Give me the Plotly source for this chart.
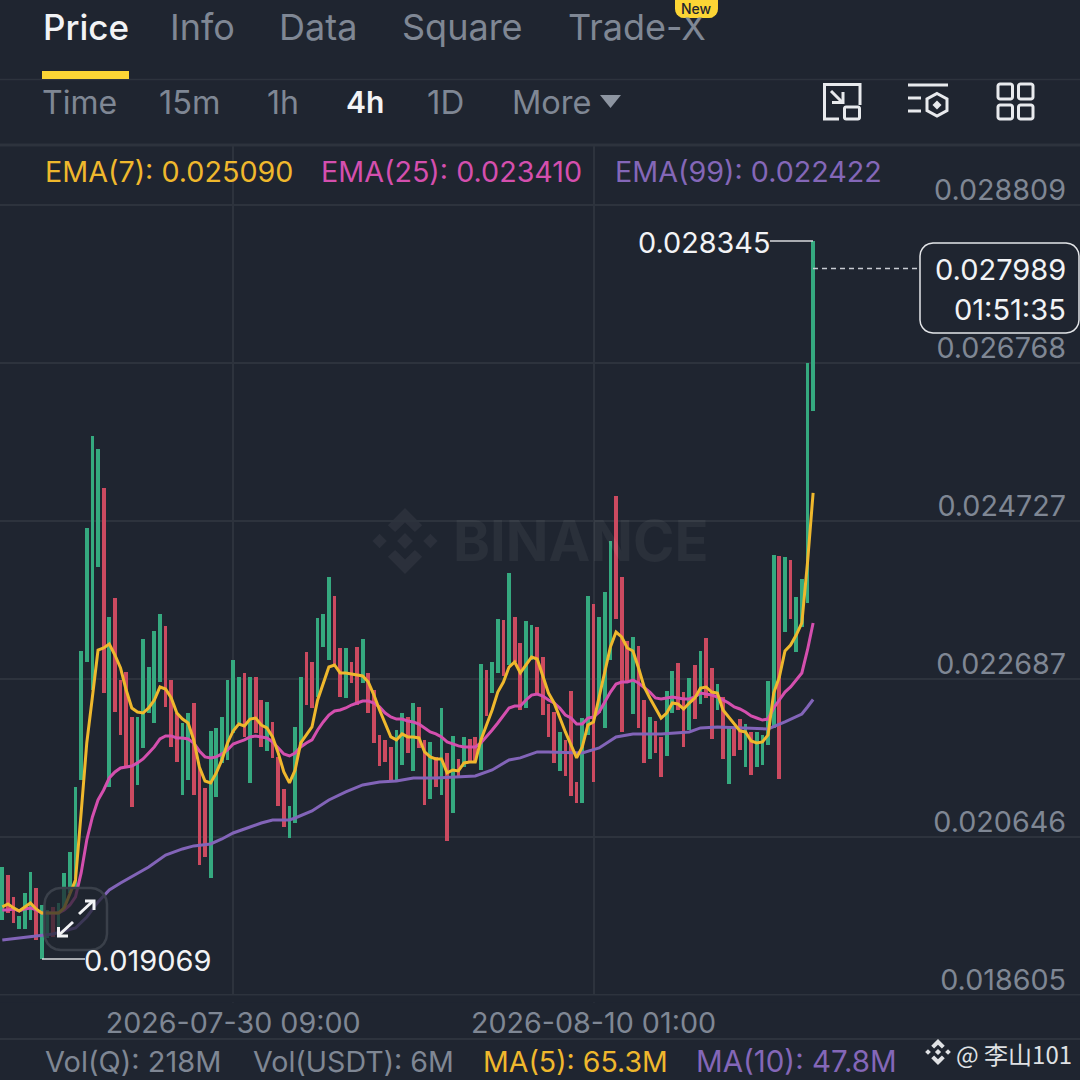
import numpy as np
import pandas as pd
import plotly.graph_objects as go

# prices below are stored x 1e6, one entry per 4h candle
bar_high = [
    20259, 20156, 19872, 19626, 19923, 20195, 19988, 19768, 19704, 19743,
    19794, 20182, 20453, 21293, 23049, 24638, 25827, 25659, 25155, 23488,
    23734, 22674, 22778, 22196, 22196, 23204, 22842, 23307, 23527, 23372,
    22674, 22248, 22119, 22248, 22377, 21538, 21280, 22016, 22055, 22196,
    22674, 22933, 22713, 22765, 22713, 22713, 22416, 22390, 22132, 21681,
    21267, 21047, 22068, 22713, 23036, 22907, 23475, 23527, 24005, 23760,
    23088, 23088, 22907, 23101, 23204, 22765, 22545, 21965, 21900, 21810,
    22029, 22248, 22196, 22377, 22326, 21900, 21874, 21681, 22313, 21732,
    21952, 21655, 21939, 21913, 21939, 22881, 22803, 22907, 23462, 23449,
    24057, 23488, 23152, 23436, 23385, 23359, 22971, 22364, 22261, 22003,
    21900, 22532, 21358, 22183, 23760, 23656, 23488, 23811, 24470, 25052,
    24005, 23178, 23230, 23113, 22416, 22196, 22145, 21939, 22532, 22791,
    22894, 22519, 22700, 22868, 23049, 23217, 22829, 22622, 22455, 22068,
    22055, 22170, 22106, 22003, 22003, 21965, 22661, 24289, 24276, 24263,
    24225, 23747, 23979, 26769, 28345,
]
bar_low = [
    19575, 19665, 19536, 19458, 19458, 19575, 19316, 19069, 19342, 19355,
    19484, 19704, 19923, 20001, 21383, 22907, 22545, 24134, 22506, 21293,
    22261, 21965, 21551, 21034, 21319, 21797, 22248, 22119, 22648, 22326,
    21810, 21616, 21190, 21383, 21190, 20285, 20389, 20117, 21164, 21603,
    21642, 21990, 22119, 21939, 21345, 21990, 21810, 21758, 21668, 21047,
    20775, 20633, 20827, 21810, 22351, 22313, 22455, 23101, 22933, 22842,
    22455, 22442, 22635, 22351, 22635, 22248, 21861, 21564, 21616, 21383,
    21383, 21577, 21732, 21499, 21797, 21060, 21138, 21293, 21190, 20595,
    20956, 21422, 21551, 21616, 21616, 21512, 22209, 22506, 22765, 22726,
    22868, 22907, 22287, 22313, 22933, 22506, 22222, 21939, 21603, 21499,
    21435, 21177, 21086, 21086, 21965, 21358, 22248, 22055, 22933, 23462,
    22003, 22635, 22235, 22055, 21603, 21655, 21732, 21422, 21693, 22248,
    22287, 21810, 22029, 22170, 22364, 22442, 21913, 22287, 21655, 21332,
    21693, 21771, 21551, 21448, 21551, 21577, 21836, 22055, 21396, 23294,
    23462, 23036, 23359, 23669, 26150,
]
# G = up candle, R = down candle
bar_side = (
    "GRRGGGRGGRGGGGGGGGRG" "RRRRGGGGGRRRGGRRRGGG" "GGGRGRRGRRRGGGRRGGGR"
    "RGRRGRRRRRGGRGRRGRGR" "GRGRRGRGGRGRRGGRRRRG" "RRRGGRGGGRRRGRRGRRGG"
    "RRGRGRRGRGRRGRGGGGRG" "RGGGG"
)
ema7 = [
    19743, 19781, 19730, 19691, 19743, 19794, 19717, 19665, 19665, 19665,
    19665, 19730, 19923, 20091, 20957, 21861, 22455, 23062, 23088, 23139,
    22997, 22829, 22545, 22313, 22261, 22248, 22313, 22416, 22584, 22558,
    22442, 22248, 22170, 22119, 21900, 21551, 21370, 21345, 21474, 21642,
    21861, 22016, 22106, 22080, 22170, 22183, 22093, 22055, 21939, 21732,
    21486, 21345, 21512, 21861, 21965, 22068, 22416, 22635, 22842, 22868,
    22765, 22765, 22752, 22739, 22726, 22648, 22480, 22287, 22119, 21939,
    21900, 21978, 21939, 21939, 21926, 21745, 21681, 21655, 21655, 21474,
    21512, 21499, 21603, 21616, 21616, 21900, 22093, 22287, 22519, 22648,
    22842, 22907, 22765, 22868, 22971, 22945, 22713, 22506, 22377, 22183,
    22003, 21836, 21668, 21810, 22093, 22132, 22455, 22739, 23100, 23294,
    23230, 23088, 23049, 22829, 22584, 22442, 22313, 22183, 22248, 22377,
    22364, 22300, 22377, 22442, 22571, 22584, 22519, 22506, 22287, 22196,
    22093, 22016, 22003, 21887, 21861, 21874, 21965, 22506, 22713, 23049,
    23126, 23255, 23411, 24186, 25090,
]
ema25 = [
    19704, 19704, 19717, 19691, 19717, 19730, 19704, 19665, 19665, 19665,
    19665, 19704, 19768, 19872, 20182, 20608, 20905, 21125, 21254, 21409,
    21486, 21538, 21551, 21564, 21603, 21655, 21732, 21810, 21913, 21952,
    21952, 21926, 21926, 21913, 21861, 21758, 21681, 21668, 21681, 21719,
    21771, 21848, 21874, 21900, 21939, 21952, 21939, 21926, 21874, 21797,
    21719, 21693, 21732, 21810, 21861, 21900, 22029, 22132, 22222, 22274,
    22287, 22313, 22351, 22377, 22403, 22403, 22377, 22326, 22248, 22196,
    22170, 22170, 22145, 22132, 22106, 22055, 22003, 21978, 21939, 21874,
    21848, 21823, 21810, 21810, 21810, 21861, 21939, 22029, 22119, 22222,
    22313, 22338, 22338, 22416, 22480, 22493, 22467, 22416, 22377, 22313,
    22222, 22183, 22106, 22106, 22183, 22196, 22261, 22390, 22519, 22622,
    22648, 22648, 22674, 22635, 22571, 22519, 22442, 22429, 22442, 22455,
    22442, 22429, 22429, 22455, 22506, 22493, 22480, 22455, 22416, 22377,
    22326, 22300, 22261, 22209, 22183, 22157, 22170, 22313, 22416, 22519,
    22584, 22674, 22765, 23062, 23410,
]
# EMA(99) is smooth enough to read only at its bends
ema99_idx = [
    0, 6, 9, 13, 15, 17, 19, 21, 24, 26, 29, 32, 34, 37, 39, 41, 44, 46, 48, 51,
    52, 55, 58, 61, 64, 67, 70, 73, 77, 81, 84, 87, 90, 92, 95, 97, 103, 106,
    109, 112, 117, 122, 124, 127, 132, 136, 139, 142, 143, 144,
]
ema99 = [
    19316, 19368, 19393, 19471, 19613, 19807, 19962, 20053, 20182, 20259,
    20414, 20492, 20531, 20556, 20621, 20698, 20775, 20827, 20866, 20866,
    20892, 20982, 21125, 21228, 21319, 21358, 21370, 21409, 21409, 21422,
    21435, 21512, 21642, 21668, 21745, 21745, 21732, 21797, 21939, 21978,
    21978, 22003, 22055, 22068, 22055, 22042, 22132, 22235, 22326, 22422,
]

price_ticks = [0.018605, 0.020646, 0.022687, 0.024727, 0.026768, 0.028809]
price_tick_labels = ["0.018605", "0.020646", "0.022687", "0.024727", "0.026768", "0.028809"]
date_ticks = ["2026-07-30 09:00", "2026-08-10 01:00"]
last_price = 0.027989
high_mark = 0.028345
low_mark = 0.019069

BG = "#1f2530"
GRID = "#2d333d"
GREEN = "#35a97f"
RED = "#cc4a60"
YELLOW = "#efb82d"
PINK = "#d44fae"
PURPLE = "#8264b8"
GREY = "#7f8794"
LIGHT = "#f2f3f5"
FONT = "Inter"

start = pd.Timestamp("2026-07-23 13:00")
candle = pd.Timedelta(hours=4)
dates = pd.date_range(start, periods=len(bar_high), freq="4h")
high = np.array(bar_high) / 1e6
low = np.array(bar_low) / 1e6
is_up = np.array([c == "G" for c in bar_side])
bar_width = candle.total_seconds() * 1000 * 0.66


def x_px(v):
    return v / 1080


def y_px(v):
    return 1 - v / 1080


def label(x, y, text, size, color, anchor="left", weight=400, family=FONT, bgcolor=None):
    return dict(
        xref="paper", yref="paper", x=x_px(x), y=y_px(y), text=text, showarrow=False,
        xanchor=anchor, yanchor="middle", borderpad=0, bgcolor=bgcolor,
        font=dict(size=size, color=color, family=family, weight=weight),
    )


def line(x0, y0, x1, y1, color=GRID, width=2, dash="solid"):
    return dict(
        type="line", xref="paper", yref="paper", x0=x_px(x0), y0=y_px(y0), x1=x_px(x1), y1=y_px(y1),
        line=dict(color=color, width=width, dash=dash), layer="above",
    )


def path(points, close=False, color=None, fill=None, width=2.5, layer="above"):
    d = "M" + "L".join(f"{x_px(x):.5f},{y_px(y):.5f}" for x, y in points)
    if close:
        d += "Z"
    return dict(
        type="path", xref="paper", yref="paper", path=d, layer=layer,
        fillcolor=fill if fill else "rgba(0,0,0,0)",
        line=dict(color=color if color else "rgba(0,0,0,0)", width=width if color else 0),
    )


def round_box(x0, y0, x1, y1, r, color=None, fill=None, width=2.5):
    # rounded rectangle in pixels, corners are approximated with a few points
    pts = []
    for cx, cy, a0 in [(x1 - r, y0 + r, -90), (x1 - r, y1 - r, 0), (x0 + r, y1 - r, 90), (x0 + r, y0 + r, 180)]:
        for a in np.radians(np.linspace(a0, a0 + 90, 6)):
            pts.append((cx + r * np.cos(a), cy + r * np.sin(a)))
    return path(pts, close=True, color=color, fill=fill, width=width)


def binance_logo(cx, cy, r, color, layer="above"):
    parts = [
        [(0, -0.24), (0.24, 0), (0, 0.24), (-0.24, 0)],
        [(-0.77, -0.22), (-0.55, 0), (-0.77, 0.22), (-0.99, 0)],
        [(0.77, -0.22), (0.99, 0), (0.77, 0.22), (0.55, 0)],
        [(0, -1), (0.52, -0.48), (0.3, -0.27), (0, -0.56), (-0.3, -0.27), (-0.52, -0.48)],
        [(0, 1), (0.52, 0.48), (0.3, 0.27), (0, 0.56), (-0.3, 0.27), (-0.52, 0.48)],
    ]
    return [
        path([(cx + r * a, cy + r * b) for a, b in p], close=True, fill=color, layer=layer)
        for p in parts
    ]


fig = go.Figure()

fig.add_trace(go.Bar(
    x=dates[is_up], y=(high - low)[is_up], base=low[is_up], width=bar_width,
    marker=dict(color=GREEN, line_width=0), name="up",
))
fig.add_trace(go.Bar(
    x=dates[~is_up], y=(high - low)[~is_up], base=low[~is_up], width=bar_width,
    marker=dict(color=RED, line_width=0), name="down",
))
fig.add_trace(go.Scatter(
    x=dates[ema99_idx], y=np.array(ema99) / 1e6, mode="lines",
    line=dict(color=PURPLE, width=3), name="EMA(99)",
))
fig.add_trace(go.Scatter(
    x=dates, y=np.array(ema25) / 1e6, mode="lines",
    line=dict(color=PINK, width=3), name="EMA(25)",
))
fig.add_trace(go.Scatter(
    x=dates, y=np.array(ema7) / 1e6, mode="lines",
    line=dict(color=YELLOW, width=3), name="EMA(7)",
))

shapes = []
# watermark logo sits under the bars
shapes += binance_logo(405, 541, 33, "#2b303b", layer="below")

# y axis runs a little past the last grid line so its label stays visible, hide that stub
shapes.append(line(0, 999, 1080, 999, color=BG, width=7))

# dividers
shapes += [line(0, 79.5, 1080, 79.5, width=1.5), line(0, 145, 1080, 145, width=3), line(0, 1039, 1080, 1039, width=2)]
shapes.append(dict(type="rect", xref="paper", yref="paper", x0=x_px(42), x1=x_px(129),
                   y0=y_px(79), y1=y_px(71), fillcolor="#fcd535", line_width=0, layer="above"))

# markers for the high, the low and the running price
shapes.append(dict(type="line", xref="paper", yref="y", x0=x_px(770), x1=x_px(813), y0=high_mark, y1=high_mark,
                   line=dict(color="#d8dadd", width=1.5), layer="above"))
shapes.append(dict(type="line", xref="paper", yref="y", x0=x_px(42), x1=x_px(85), y0=low_mark, y1=low_mark,
                   line=dict(color="#d8dadd", width=1.5), layer="above"))
shapes.append(dict(type="line", xref="paper", yref="y", x0=x_px(813), x1=x_px(920), y0=last_price, y1=last_price,
                   line=dict(color="#c8ccd2", width=1.5, dash="5px,4px"), layer="above"))
shapes.append(round_box(920, 243, 1079, 333, 13, color="#e4e6e9", fill=BG, width=1.5))

# New badge
shapes.append(round_box(675, -12, 718, 18, 9, fill="#fcd535"))

# More triangle
shapes.append(path([(600, 95), (621, 95), (610.5, 108)], close=True, fill="#8d95a1"))

# toolbar icons
ICON = "#e8eaed"
shapes.append(path([(860, 105), (860, 84.5), (824.5, 84.5), (824.5, 119), (839, 119)], color=ICON, width=3))
shapes.append(round_box(844.5, 107, 859.5, 119, 1.5, color=ICON, width=3))
shapes.append(path([(831, 91), (842, 102)], color=ICON, width=3))
shapes.append(path([(843, 92), (843, 102.5), (832, 102.5)], color=ICON, width=3))
shapes.append(line(908, 85, 948, 85, color=ICON, width=3))
shapes.append(line(908, 98, 921, 98, color=ICON, width=3))
shapes.append(line(908, 111, 921, 111, color=ICON, width=3))
shapes.append(path([(937, 93.5), (947, 99), (947, 110.5), (937, 116), (927, 110.5), (927, 99)],
                   close=True, color=ICON, width=3))
shapes.append(path([(937, 100.5), (941.5, 105), (937, 109.5), (932.5, 105)], close=True, fill=ICON))
for x0, x1 in [(998, 1012.5), (1018.5, 1033)]:
    for y0, y1 in [(84, 99), (105, 119)]:
        shapes.append(round_box(x0, y0, x1, y1, 2, color=ICON, width=3))

# expand button floats over the chart
shapes.append(round_box(44.5, 888, 107, 950, 16, color="#3a404a", fill="rgba(32,37,47,0.72)", width=2.5))
shapes.append(path([(73, 922), (59, 935)], color=LIGHT, width=3))
shapes.append(path([(58.5, 927), (58.5, 936), (68, 936)], color=LIGHT, width=3))
shapes.append(path([(79, 914), (93, 901)], color=LIGHT, width=3))
shapes.append(path([(85, 901), (94, 901), (94, 910)], color=LIGHT, width=3))

shapes += binance_logo(938, 1052, 13, "#dfe1e4")

annotations = [
    label(42, 27, "Price", 35, LIGHT, weight=500),
    label(169, 27, "Info", 36, GREY),
    label(278, 27, "Data", 36, GREY),
    label(401, 27, "Square", 36, GREY),
    label(567, 27, "Trade-X", 36, GREY),
    # the badge text carries a fill so that it covers the top of the X like the badge does
    label(696.5, 9, "New", 14, "#1f2530", anchor="center", weight=500, bgcolor="#fcd535"),
    label(41, 102, "Time", 32, GREY),
    label(158, 102, "15m", 32.5, GREY),
    label(266, 102, "1h", 32, GREY),
    label(345, 102, "4h", 30, LIGHT, weight=600),
    label(426, 102, "1D", 33, GREY),
    label(511, 102, "More", 32.5, GREY),
    label(44, 172, "EMA(7): 0.025090", 28.7, YELLOW),
    label(320, 172, "EMA(25): 0.023410", 28.7, PINK),
    label(614, 172, "EMA(99): 0.022422", 28.7, "#8467b8"),
    label(771, 242, "0.028345", 28.8, LIGHT, anchor="right"),
    label(83, 960, "0.019069", 29, LIGHT),
    label(1067, 269, "0.027989", 29, LIGHT, anchor="right"),
    label(1067, 309, "01:51:35", 29, LIGHT, anchor="right"),
    label(44, 1061, "Vol(Q): 218M", 29, GREY),
    label(252, 1061, "Vol(USDT): 6M", 28.6, GREY),
    label(482, 1061, "MA(5): 65.3M", 28.5, YELLOW),
    label(695, 1061, "MA(10): 47.8M", 29.5, "#8467b8"),
    label(955, 1053, "@ 李山101", 24, "#dfe1e4", family="Noto Sans CJK SC"),
    # watermark text, translucent because annotations always draw over the bars
    label(580, 541, "BINANCE", 56, "rgba(255,255,255,0.05)", anchor="center", weight=700),
]

fig.update_layout(
    width=1080,
    height=1080,
    margin=dict(l=0, r=0, t=0, b=0),
    paper_bgcolor=BG,
    plot_bgcolor=BG,
    showlegend=False,
    barmode="overlay",
    bargap=0,
    font=dict(family=FONT, color=GREY),
    shapes=shapes,
    annotations=annotations,
    xaxis=dict(
        type="date",
        domain=[0, 1],
        range=[start - 0.41 * candle, start + 191.4 * candle],
        tickvals=date_ticks,
        ticktext=date_ticks,
        tickfont=dict(size=28.7, color=GREY),
        showgrid=True,
        gridcolor=GRID,
        gridwidth=1.5,
        zeroline=False,
        showline=False,
        ticks="",
        ticklabelstandoff=0,
    ),
    yaxis=dict(
        side="right",
        domain=[77 / 1080, 935 / 1080],
        range=[0.018502, 0.029585],
        tickvals=price_ticks,
        ticktext=price_tick_labels,
        tickfont=dict(size=28.7, color=GREY),
        ticklabelposition="inside top",
        ticklabelstandoff=11,
        ticklabelshift=5,
        showgrid=True,
        gridcolor=GRID,
        gridwidth=1.5,
        zeroline=False,
        showline=False,
        ticks="",
    ),
)

fig.write_html(
    "out.html",
    config={"displayModeBar": False},
    post_script=f"document.body.style.margin='0';document.body.style.background='{BG}';",
)
